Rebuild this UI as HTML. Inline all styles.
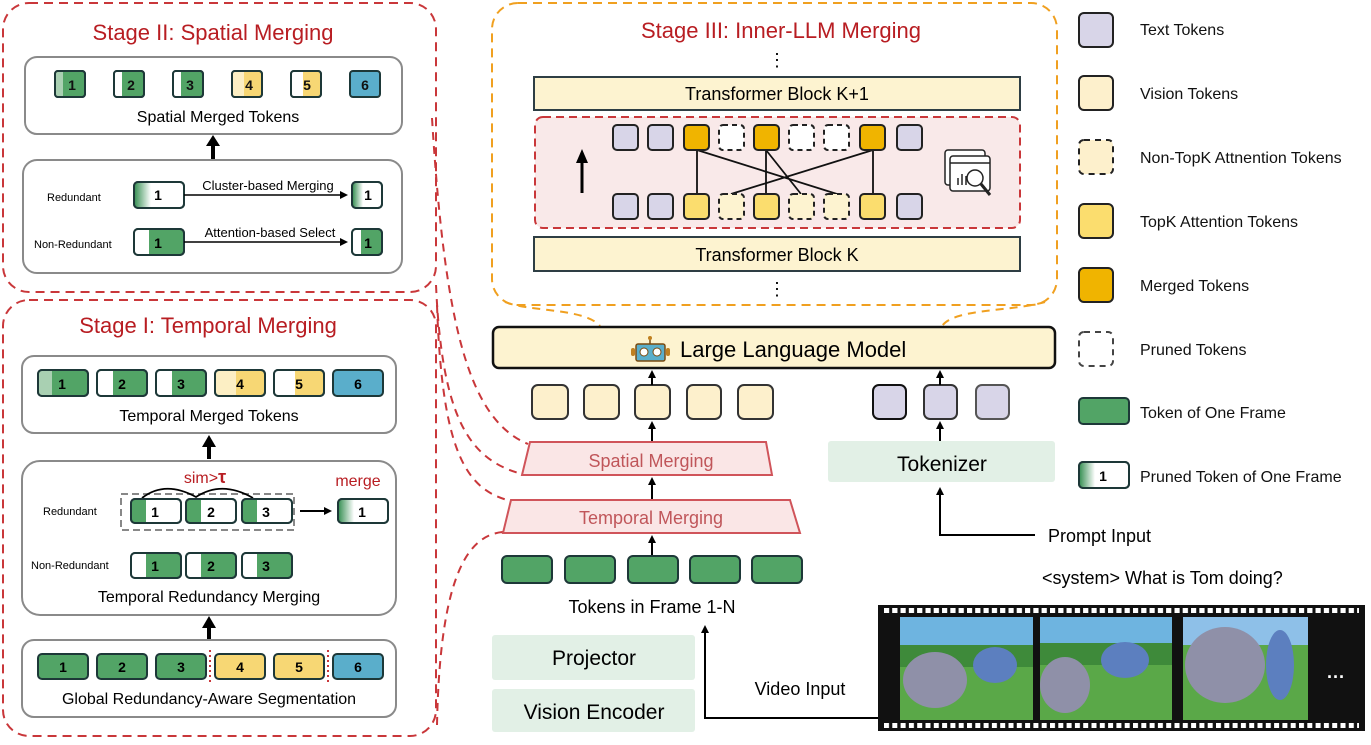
<!DOCTYPE html>
<html><head><meta charset="utf-8"><style>
html,body{margin:0;padding:0;background:#fff;}
svg{display:block;font-family:"Liberation Sans",sans-serif;}
</style></head><body>
<svg width="1371" height="745" viewBox="0 0 1371 745" xmlns="http://www.w3.org/2000/svg">
<defs>
<linearGradient id="pg" x1="0" x2="1" y1="0" y2="0"><stop offset="0" stop-color="#3f945a"/><stop offset="1" stop-color="#ffffff"/></linearGradient>
<marker id="ah" markerWidth="8" markerHeight="8" refX="6" refY="4" orient="auto" markerUnits="userSpaceOnUse"><path d="M0,0 L8,4 L0,8 z" fill="#000"/></marker>
<marker id="ahb" markerWidth="12" markerHeight="12" refX="8" refY="6" orient="auto" markerUnits="userSpaceOnUse"><path d="M0,0 L12,6 L0,12 z" fill="#000"/></marker>
</defs>

<!-- ============ Stage II ============ -->
<rect x="3" y="3" width="433" height="289" rx="26" fill="none" stroke="#c9373a" stroke-width="2" stroke-dasharray="9,6"/>
<text x="213" y="40" font-size="22" fill="#b81d22" text-anchor="middle">Stage II: Spatial Merging</text>
<rect x="25" y="57" width="377" height="77" rx="12" fill="#fff" stroke="#8a8a8a" stroke-width="2"/>
<g stroke="#1d3838" stroke-width="2" font-size="14" font-weight="bold" text-anchor="middle">
<rect x="55" y="71" width="30" height="26" rx="3" fill="#52a466"/><rect x="56" y="72" width="7" height="24" fill="#a9d0b2" stroke="none"/><rect x="55" y="71" width="30" height="26" rx="3" fill="none"/>
<rect x="114" y="71" width="30" height="26" rx="3" fill="#52a466"/><rect x="115" y="72" width="7" height="24" fill="#fff" stroke="none"/><rect x="114" y="71" width="30" height="26" rx="3" fill="none"/>
<rect x="173" y="71" width="30" height="26" rx="3" fill="#52a466"/><rect x="174" y="72" width="7" height="24" fill="#fff" stroke="none"/><rect x="173" y="71" width="30" height="26" rx="3" fill="none"/>
<rect x="232" y="71" width="30" height="26" rx="3" fill="#f7d774"/><rect x="233" y="72" width="11" height="24" fill="#fcefc4" stroke="none"/><rect x="232" y="71" width="30" height="26" rx="3" fill="none"/>
<rect x="291" y="71" width="30" height="26" rx="3" fill="#f7d774"/><rect x="292" y="72" width="11" height="24" fill="#fff" stroke="none"/><rect x="291" y="71" width="30" height="26" rx="3" fill="none"/>
<rect x="350" y="71" width="30" height="26" rx="3" fill="#5aaecb"/>
</g>
<g font-size="14" font-weight="bold" text-anchor="middle" fill="#111">
<text x="72" y="90">1</text><text x="131" y="90">2</text><text x="190" y="90">3</text><text x="249" y="90">4</text><text x="307" y="90">5</text><text x="365" y="90">6</text>
</g>
<text x="218" y="122" font-size="16" text-anchor="middle">Spatial Merged Tokens</text>
<line x1="213" y1="159" x2="213" y2="144" stroke="#000" stroke-width="4"/><path d="M206,146 L213,135 L220,146z" fill="#000"/>
<rect x="23" y="160" width="379" height="113" rx="14" fill="#fff" stroke="#8a8a8a" stroke-width="2"/>
<text x="47" y="201" font-size="11">Redundant</text>
<text x="34" y="248" font-size="11">Non-Redundant</text>
<g stroke="#1d3838" stroke-width="2">
<rect x="134" y="182" width="50" height="26" rx="4" fill="#fff"/><rect x="135" y="183" width="16" height="24" fill="url(#pg)" stroke="none"/><rect x="134" y="182" width="50" height="26" rx="4" fill="none"/>
<rect x="352" y="182" width="30" height="26" rx="4" fill="#fff"/><rect x="353" y="183" width="10" height="24" fill="url(#pg)" stroke="none"/><rect x="352" y="182" width="30" height="26" rx="4" fill="none"/>
<rect x="134" y="229" width="50" height="26" rx="4" fill="#52a466"/><rect x="135" y="230" width="14" height="24" fill="#fff" stroke="none"/><rect x="134" y="229" width="50" height="26" rx="4" fill="none"/>
<rect x="352" y="229" width="30" height="26" rx="4" fill="#52a466"/><rect x="353" y="230" width="8" height="24" fill="#fff" stroke="none"/><rect x="352" y="229" width="30" height="26" rx="4" fill="none"/>
</g>
<g font-size="14" font-weight="bold" text-anchor="middle"><text x="158" y="200">1</text><text x="368" y="200">1</text><text x="158" y="248">1</text><text x="368" y="248">1</text></g>
<line x1="184" y1="195" x2="346" y2="195" stroke="#000" stroke-width="1.5" marker-end="url(#ah)"/>
<line x1="184" y1="242" x2="346" y2="242" stroke="#000" stroke-width="1.5" marker-end="url(#ah)"/>
<text x="268" y="190" font-size="13" text-anchor="middle">Cluster-based Merging</text>
<text x="270" y="237" font-size="13" text-anchor="middle">Attention-based Select</text>

<!-- ============ Stage I ============ -->
<rect x="3" y="300" width="433" height="436" rx="26" fill="none" stroke="#c9373a" stroke-width="2" stroke-dasharray="9,6"/>
<text x="208" y="333" font-size="22" fill="#b81d22" text-anchor="middle">Stage I: Temporal Merging</text>
<rect x="22" y="356" width="374" height="77" rx="12" fill="#fff" stroke="#8a8a8a" stroke-width="2"/>
<g stroke="#1d3838" stroke-width="2">
<rect x="38" y="370" width="50" height="26" rx="4" fill="#52a466"/><rect x="39" y="371" width="13" height="24" fill="#a9d0b2" stroke="none"/><rect x="38" y="370" width="50" height="26" rx="4" fill="none"/>
<rect x="97" y="370" width="50" height="26" rx="4" fill="#52a466"/><rect x="98" y="371" width="15" height="24" fill="#fff" stroke="none"/><rect x="97" y="370" width="50" height="26" rx="4" fill="none"/>
<rect x="156" y="370" width="50" height="26" rx="4" fill="#52a466"/><rect x="157" y="371" width="15" height="24" fill="#fff" stroke="none"/><rect x="156" y="370" width="50" height="26" rx="4" fill="none"/>
<rect x="215" y="370" width="50" height="26" rx="4" fill="#f7d774"/><rect x="216" y="371" width="20" height="24" fill="#fcefc4" stroke="none"/><rect x="215" y="370" width="50" height="26" rx="4" fill="none"/>
<rect x="274" y="370" width="50" height="26" rx="4" fill="#f7d774"/><rect x="275" y="371" width="20" height="24" fill="#fff" stroke="none"/><rect x="274" y="370" width="50" height="26" rx="4" fill="none"/>
<rect x="333" y="370" width="50" height="26" rx="4" fill="#5aaecb"/>
</g>
<g font-size="14" font-weight="bold" text-anchor="middle"><text x="62" y="389">1</text><text x="122" y="389">2</text><text x="181" y="389">3</text><text x="240" y="389">4</text><text x="299" y="389">5</text><text x="358" y="389">6</text></g>
<text x="209" y="421" font-size="16" text-anchor="middle">Temporal Merged Tokens</text>
<line x1="209" y1="459" x2="209" y2="445" stroke="#000" stroke-width="4"/><path d="M202,447 L209,435 L216,447z" fill="#000"/>
<rect x="22" y="461" width="374" height="154" rx="18" fill="#fff" stroke="#8a8a8a" stroke-width="2"/>
<text x="43" y="515" font-size="11">Redundant</text>
<text x="31" y="569" font-size="11">Non-Redundant</text>
<rect x="121" y="494" width="173" height="36" fill="none" stroke="#888" stroke-width="2" stroke-dasharray="7,4"/>
<path d="M142,498 Q165,480 196,497 Q222,480 253,498" fill="none" stroke="#000" stroke-width="1.8"/>
<text x="205" y="483" font-size="16" fill="#b81d22" text-anchor="middle">sim&gt;<tspan font-weight="bold" font-size="18">τ</tspan></text>
<text x="358" y="486" font-size="16" fill="#b81d22" text-anchor="middle">merge</text>
<g stroke="#1d3838" stroke-width="2">
<rect x="131" y="499" width="50" height="24" rx="4" fill="#fff"/><rect x="132" y="500" width="14" height="22" fill="#52a466" stroke="none"/><rect x="131" y="499" width="50" height="24" rx="4" fill="none"/>
<rect x="186" y="499" width="50" height="24" rx="4" fill="#fff"/><rect x="187" y="500" width="14" height="22" fill="#52a466" stroke="none"/><rect x="186" y="499" width="50" height="24" rx="4" fill="none"/>
<rect x="242" y="499" width="50" height="24" rx="4" fill="#fff"/><rect x="243" y="500" width="14" height="22" fill="#52a466" stroke="none"/><rect x="242" y="499" width="50" height="24" rx="4" fill="none"/>
<rect x="338" y="499" width="50" height="24" rx="4" fill="#fff"/><rect x="339" y="500" width="15" height="22" fill="url(#pg)" stroke="none"/><rect x="338" y="499" width="50" height="24" rx="4" fill="none"/>
<rect x="131" y="553" width="50" height="25" rx="4" fill="#52a466"/><rect x="132" y="554" width="14" height="23" fill="#fff" stroke="none"/><rect x="131" y="553" width="50" height="25" rx="4" fill="none"/>
<rect x="186" y="553" width="50" height="25" rx="4" fill="#52a466"/><rect x="187" y="554" width="14" height="23" fill="#fff" stroke="none"/><rect x="186" y="553" width="50" height="25" rx="4" fill="none"/>
<rect x="242" y="553" width="50" height="25" rx="4" fill="#52a466"/><rect x="243" y="554" width="14" height="23" fill="#fff" stroke="none"/><rect x="242" y="553" width="50" height="25" rx="4" fill="none"/>
</g>
<g font-size="14" font-weight="bold" text-anchor="middle"><text x="155" y="517">1</text><text x="211" y="517">2</text><text x="266" y="517">3</text><text x="362" y="517">1</text><text x="155" y="571">1</text><text x="211" y="571">2</text><text x="266" y="571">3</text></g>
<line x1="300" y1="511" x2="330" y2="511" stroke="#000" stroke-width="2" marker-end="url(#ah)"/>
<text x="209" y="602" font-size="16" text-anchor="middle">Temporal Redundancy Merging</text>
<line x1="209" y1="639" x2="209" y2="626" stroke="#000" stroke-width="4"/><path d="M202,628 L209,616 L216,628z" fill="#000"/>
<rect x="22" y="640" width="374" height="77" rx="12" fill="#fff" stroke="#8a8a8a" stroke-width="2"/>
<g stroke="#1d3838" stroke-width="2">
<rect x="38" y="654" width="50" height="25" rx="4" fill="#52a466"/>
<rect x="97" y="654" width="50" height="25" rx="4" fill="#52a466"/>
<rect x="156" y="654" width="50" height="25" rx="4" fill="#52a466"/>
<rect x="215" y="654" width="50" height="25" rx="4" fill="#f7d774"/>
<rect x="274" y="654" width="50" height="25" rx="4" fill="#f7d774"/>
<rect x="333" y="654" width="50" height="25" rx="4" fill="#5aaecb"/>
</g>
<line x1="210" y1="650" x2="210" y2="683" stroke="#c9373a" stroke-width="2" stroke-dasharray="2,3"/>
<line x1="328" y1="650" x2="328" y2="683" stroke="#c9373a" stroke-width="2" stroke-dasharray="2,3"/>
<g font-size="14" font-weight="bold" text-anchor="middle"><text x="63" y="672">1</text><text x="122" y="672">2</text><text x="181" y="672">3</text><text x="240" y="672">4</text><text x="299" y="672">5</text><text x="358" y="672">6</text></g>
<text x="209" y="704" font-size="16" text-anchor="middle">Global Redundancy-Aware Segmentation</text>

<!-- connecting dashed curves -->
<g fill="none" stroke="#c9373a" stroke-width="2" stroke-dasharray="8,6">
<path d="M432,118 C445,330 470,420 528,444"/>
<path d="M436,285 C442,420 470,460 522,474"/>
<path d="M437,305 C442,450 465,490 511,501"/>
<path d="M437,725 C440,570 470,535 503,532"/>
</g>

<!-- ============ Stage III ============ -->
<rect x="492" y="3" width="565" height="302" rx="26" fill="none" stroke="#f0a020" stroke-width="2" stroke-dasharray="9,6"/>
<g fill="none" stroke="#f0a020" stroke-width="2" stroke-dasharray="8,6">
<path d="M505,302 C530,312 585,308 600,326"/>
<path d="M1045,302 C1010,312 955,308 942,326"/>
</g>
<text x="781" y="38" font-size="22" fill="#b81d22" text-anchor="middle">Stage III: Inner-LLM Merging</text>
<text x="777" y="66" font-size="18" text-anchor="middle">⋮</text>
<rect x="534" y="77" width="486" height="33" fill="#fdf3d0" stroke="#2e3e44" stroke-width="2"/>
<text x="777" y="100" font-size="18" text-anchor="middle">Transformer Block K+1</text>
<rect x="535" y="117" width="485" height="111" rx="8" fill="#f9e9e9" stroke="#c9373a" stroke-width="2" stroke-dasharray="8,5"/>
<line x1="582" y1="193" x2="582" y2="162" stroke="#000" stroke-width="3"/><path d="M576,163 L582,149 L588,163z" fill="#000"/>
<g stroke="#111" stroke-width="1.8">
<line x1="697" y1="150" x2="697" y2="194"/><line x1="697" y1="150" x2="837" y2="194"/>
<line x1="766" y1="150" x2="766" y2="194"/><line x1="766" y1="150" x2="801" y2="194"/>
<line x1="873" y1="150" x2="873" y2="194"/><line x1="873" y1="150" x2="731" y2="194"/>
</g>
<g stroke="#222" stroke-width="2">
<rect x="613" y="125" width="25" height="25" rx="4" fill="#d8d5e8"/>
<rect x="648" y="125" width="25" height="25" rx="4" fill="#d8d5e8"/>
<rect x="684" y="125" width="25" height="25" rx="4" fill="#f0b400"/>
<rect x="719" y="125" width="25" height="25" rx="4" fill="#fff" stroke-dasharray="5,4"/>
<rect x="754" y="125" width="25" height="25" rx="4" fill="#f0b400"/>
<rect x="789" y="125" width="25" height="25" rx="4" fill="#fff" stroke-dasharray="5,4"/>
<rect x="824" y="125" width="25" height="25" rx="4" fill="#fff" stroke-dasharray="5,4"/>
<rect x="860" y="125" width="25" height="25" rx="4" fill="#f0b400"/>
<rect x="897" y="125" width="25" height="25" rx="4" fill="#d8d5e8"/>
<rect x="613" y="194" width="25" height="25" rx="4" fill="#d8d5e8"/>
<rect x="648" y="194" width="25" height="25" rx="4" fill="#d8d5e8"/>
<rect x="684" y="194" width="25" height="25" rx="4" fill="#fbdd6e"/>
<rect x="719" y="194" width="25" height="25" rx="4" fill="#fdf3d0" stroke-dasharray="5,4"/>
<rect x="754" y="194" width="25" height="25" rx="4" fill="#fbdd6e"/>
<rect x="789" y="194" width="25" height="25" rx="4" fill="#fdf3d0" stroke-dasharray="5,4"/>
<rect x="824" y="194" width="25" height="25" rx="4" fill="#fdf3d0" stroke-dasharray="5,4"/>
<rect x="860" y="194" width="25" height="25" rx="4" fill="#fbdd6e"/>
<rect x="897" y="194" width="25" height="25" rx="4" fill="#d8d5e8"/>
</g>
<!-- analysis icon -->
<g fill="#fff" stroke="#222" stroke-width="1.5">
<rect x="945" y="150" width="40" height="35" rx="3"/>
<rect x="950" y="156" width="40" height="35" rx="3"/>
<line x1="950" y1="163" x2="990" y2="163"/>
<circle cx="975" cy="178" r="8"/><line x1="981" y1="184" x2="990" y2="195" stroke-width="3"/>
<line x1="958" y1="185" x2="958" y2="178"/><line x1="962" y1="185" x2="962" y2="174"/><line x1="966" y1="185" x2="966" y2="176"/>
</g>
<rect x="534" y="237" width="486" height="34" fill="#fdf3d0" stroke="#2e3e44" stroke-width="2"/>
<text x="777" y="261" font-size="18" text-anchor="middle">Transformer Block K</text>
<text x="777" y="295" font-size="18" text-anchor="middle">⋮</text>

<!-- ============ LLM pipeline ============ -->
<rect x="493" y="327" width="562" height="41" rx="6" fill="#fdf3d0" stroke="#111" stroke-width="2.5"/>
<g>
<line x1="650" y1="339" x2="650" y2="344" stroke="#7a4a10" stroke-width="1.5"/><circle cx="650" cy="338" r="2" fill="#c08020"/>
<rect x="636" y="344" width="29" height="17" rx="2" fill="#5aaecb" stroke="#7a4a10" stroke-width="1.5"/>
<circle cx="644" cy="352" r="4" fill="#fff" stroke="#7a4a10"/><circle cx="657" cy="352" r="4" fill="#fff" stroke="#7a4a10"/>
<rect x="631" y="348" width="4" height="8" rx="2" fill="#c08020"/><rect x="666" y="348" width="4" height="8" rx="2" fill="#c08020"/>
</g>
<text x="680" y="357" font-size="22">Large Language Model</text>
<g stroke="#333" stroke-width="2" fill="#fdf0cc">
<rect x="532" y="385" width="36" height="34" rx="6"/>
<rect x="584" y="385" width="35" height="34" rx="6"/>
<rect x="635" y="385" width="35" height="34" rx="6"/>
<rect x="687" y="385" width="34" height="34" rx="6"/>
<rect x="738" y="385" width="35" height="34" rx="6"/>
</g>
<g stroke="#333" stroke-width="2" fill="#d8d5e8">
<rect x="873" y="385" width="33" height="34" rx="6" stroke="#111"/>
<rect x="924" y="385" width="33" height="34" rx="6"/>
<rect x="976" y="385" width="33" height="34" rx="6" stroke="#555"/>
</g>
<g stroke="#000" stroke-width="2">
<line x1="652" y1="385" x2="652" y2="372" marker-end="url(#ah)"/>
<line x1="652" y1="442" x2="652" y2="423" marker-end="url(#ah)"/>
<line x1="652" y1="500" x2="652" y2="479" marker-end="url(#ah)"/>
<line x1="652" y1="556" x2="652" y2="537" marker-end="url(#ah)"/>
<line x1="940" y1="385" x2="940" y2="372" marker-end="url(#ah)"/>
<line x1="940" y1="441" x2="940" y2="423" marker-end="url(#ah)"/>
<polyline points="1035,535 940,535 940,489" fill="none" marker-end="url(#ah)"/>
<polyline points="890,718 705,718 705,627" fill="none" marker-end="url(#ah)"/>
</g>
<polygon points="530,442 766,442 772,475 522,475" fill="#fae6e6" stroke="#d0545a" stroke-width="2"/>
<text x="651" y="467" font-size="18" fill="#c0565a" text-anchor="middle">Spatial Merging</text>
<polygon points="511,500 790,500 800,533 503,533" fill="#fae6e6" stroke="#d0545a" stroke-width="2"/>
<text x="651" y="524" font-size="18" fill="#c0565a" text-anchor="middle">Temporal Merging</text>
<rect x="828" y="441" width="227" height="41" rx="3" fill="#e2f0e6"/>
<text x="942" y="471" font-size="21" text-anchor="middle">Tokenizer</text>
<g stroke="#1d3838" stroke-width="2" fill="#52a466">
<rect x="502" y="556" width="50" height="27" rx="5"/>
<rect x="565" y="556" width="50" height="27" rx="5"/>
<rect x="628" y="556" width="50" height="27" rx="5"/>
<rect x="690" y="556" width="50" height="27" rx="5"/>
<rect x="752" y="556" width="50" height="27" rx="5"/>
</g>
<text x="652" y="613" font-size="18" text-anchor="middle">Tokens in Frame 1-N</text>
<text x="1048" y="542" font-size="18">Prompt Input</text>
<text x="1042" y="584" font-size="18">&lt;system&gt; What is Tom doing?</text>
<rect x="492" y="635" width="203" height="45" rx="3" fill="#e2f0e6"/>
<text x="594" y="665" font-size="21" text-anchor="middle">Projector</text>
<rect x="492" y="689" width="203" height="43" rx="3" fill="#e2f0e6"/>
<text x="594" y="719" font-size="21" text-anchor="middle">Vision Encoder</text>
<text x="800" y="695" font-size="18" text-anchor="middle">Video Input</text>

<!-- film strip -->
<rect x="878" y="605" width="487" height="126" fill="#111"/>
<g fill="#fff">
<rect x="884" y="608" width="470" height="5" fill="url(#holes)"/>
</g>
<defs><pattern id="holes" x="884" y="0" width="8.3" height="10" patternUnits="userSpaceOnUse"><rect x="0" y="0" width="5" height="10" fill="#fff"/></pattern></defs>
<rect x="884" y="608" width="475" height="5" fill="url(#holes)"/>
<rect x="884" y="723" width="475" height="5" fill="url(#holes)"/>
<g>
<rect x="900" y="617" width="133" height="103" fill="#5aa848"/>
<rect x="900" y="617" width="133" height="30" fill="#6eb4e0"/>
<rect x="900" y="645" width="133" height="22" fill="#3e8a3a"/>
<ellipse cx="935" cy="680" rx="32" ry="28" fill="#8f90a8"/>
<ellipse cx="995" cy="665" rx="22" ry="18" fill="#5c7fbf"/>
<rect x="1040" y="617" width="132" height="103" fill="#5aa848"/>
<rect x="1040" y="617" width="132" height="28" fill="#6eb4e0"/>
<rect x="1040" y="643" width="132" height="22" fill="#3e8a3a"/>
<ellipse cx="1065" cy="685" rx="25" ry="28" fill="#8f90a8"/>
<ellipse cx="1125" cy="660" rx="24" ry="18" fill="#5c7fbf"/>
<rect x="1183" y="617" width="125" height="103" fill="#5aa848"/>
<rect x="1183" y="617" width="125" height="28" fill="#8ec0e8"/>
<ellipse cx="1225" cy="665" rx="40" ry="38" fill="#8f90a8"/>
<ellipse cx="1280" cy="665" rx="14" ry="35" fill="#5c7fbf"/>
</g>
<text x="1336" y="683" font-size="18" fill="#fff" text-anchor="middle" font-weight="bold">···</text>

<!-- ============ Legend ============ -->
<g stroke="#222" stroke-width="2">
<rect x="1079" y="13" width="34" height="34" rx="5" fill="#d8d5e8"/>
<rect x="1079" y="76" width="34" height="34" rx="5" fill="#fdf0cc"/>
<rect x="1079" y="140" width="34" height="34" rx="5" fill="#fdf0cc" stroke-dasharray="6,5"/>
<rect x="1079" y="204" width="34" height="34" rx="5" fill="#fbdd6e"/>
<rect x="1079" y="268" width="34" height="34" rx="5" fill="#f0b400"/>
<rect x="1079" y="332" width="34" height="34" rx="5" fill="#fff" stroke-dasharray="6,5" stroke="#444"/>
<rect x="1079" y="398" width="50" height="26" rx="4" fill="#52a466" stroke="#1d3838"/>
<rect x="1079" y="462" width="50" height="26" rx="4" fill="#fff" stroke="#1d3838"/>
</g>
<rect x="1080" y="463" width="15" height="24" fill="url(#pg)"/>
<rect x="1079" y="462" width="50" height="26" rx="4" fill="none" stroke="#1d3838" stroke-width="2"/>
<text x="1103" y="481" font-size="14" font-weight="bold" text-anchor="middle">1</text>
<g font-size="16" fill="#111">
<text x="1140" y="35">Text Tokens</text>
<text x="1140" y="99">Vision Tokens</text>
<text x="1140" y="163">Non-TopK Attnention Tokens</text>
<text x="1140" y="227">TopK Attention Tokens</text>
<text x="1140" y="291">Merged Tokens</text>
<text x="1140" y="355">Pruned Tokens</text>
<text x="1140" y="418">Token of One Frame</text>
<text x="1140" y="482">Pruned Token of One Frame</text>
</g>
</svg>
</body></html>
